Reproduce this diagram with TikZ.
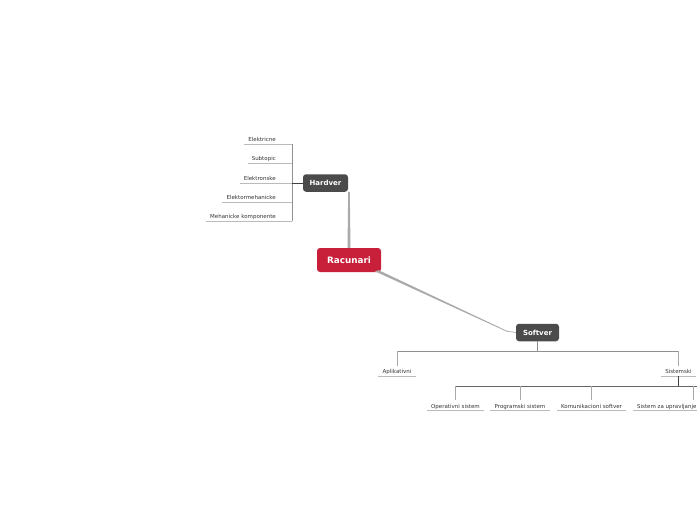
\documentclass[tikz,border=0pt]{standalone}
\usepackage{fontspec}
\setmainfont{DejaVu Sans}
\usetikzlibrary{calc}
\definecolor{redbox}{HTML}{C8203A}
\definecolor{darkbox}{HTML}{4B4B4B}
\definecolor{conn}{HTML}{AAAAAA}
\definecolor{uline}{HTML}{BBBBBB}
\definecolor{leaftext}{HTML}{333333}
\tikzset{
  mainbox/.style={fill=redbox, text=white, rounded corners=3pt, font=\fontsize{8.8}{10}\selectfont\bfseries,
    minimum width=64pt, minimum height=24pt, inner sep=0pt},
  subbox/.style={fill=darkbox, text=white, rounded corners=3pt, font=\fontsize{7}{8}\selectfont\bfseries,
    minimum height=17.5pt, inner sep=0pt},
  leaf/.style={text=leaftext, font=\fontsize{5.5}{6}\selectfont, inner xsep=4pt, inner ysep=1pt,
    text height=4pt, text depth=1pt},
  ul/.style={draw=uline, line width=0.8pt},
  brk/.style={draw=conn!85!black, line width=0.7pt},
  drop/.style={draw=conn, line width=0.7pt, shorten >=3pt},
  darkln/.style={draw=black!75, line width=0.8pt}
}
\begin{document}
\begin{tikzpicture}[x=1pt,y=-1pt]
\useasboundingbox (0,0) rectangle (697,520);
\clip (0,0) rectangle (697,520);

% main nodes
\node[mainbox] (R) at (349,260) {Racunari};
\node[subbox, minimum width=45pt] (H) at (325.5,183) {Hardver};
\node[subbox, minimum width=43pt] (S) at (537.5,332.5) {Softver};

% Racunari -> Hardver (tapered)
\coordinate (rh1) at ($(R.north)+(-1.5,0)$);
\coordinate (rh2) at ($(R.north)+(1.5,0)$);
\fill[conn] (rh1) -- (rh2) -- ($(R.north |- H.south)+(0.8,0)$) -- ($(R.north |- H.south)+(-0.8,0)$) -- cycle;

% Racunari -> Softver (tapered, then curve)
\coordinate (rs1) at ($(R.south east)+(-6.5,-1)$);
\coordinate (rs2) at ($(R.south east)+(-2.5,-2)$);
\coordinate (rsm) at (507,331.3);
\fill[conn] (rs1) -- (rs2) -- ($(rsm)+(0,-0.45)$) -- ($(rsm)+(0,0.45)$) -- cycle;
\draw[conn, line width=0.7pt] (rsm) .. controls (511,332.8) .. (S.west);

% Hardver leaves
\coordinate (hb) at (292,183);
\node[leaf, anchor=south east] (h1) at (280,144) {Elektricne};
\node[leaf, anchor=south east] (h2) at (280,163) {Subtopic};
\node[leaf, anchor=south east] (h3) at (280,183) {Elektronske};
\node[leaf, anchor=south east] (h4) at (280,202) {Elektormehanicke};
\node[leaf, anchor=south east] (h5) at (280,221) {Mehanicke komponente};
\foreach \n in {h1,h2,h3,h4,h5} {
  \draw[ul] (\n.south west) -- (\n.south -| hb);
}
\draw[brk] (h1.south -| hb) -- (h5.south -| hb);
\draw[darkln] (H.west) -- (hb);

% Softver leaves
\coordinate (sb) at (537.5,351);
\node[leaf, anchor=south] (A) at (397,376) {Aplikativni};
\node[leaf, anchor=south] (Si) at (678.5,376) {Sistemski};
\foreach \n in {A,Si} { \draw[ul] (\n.south west) -- (\n.south east); }
\draw[brk] (S.south) -- (sb);
\draw[brk] (A.north |- sb) -- (Si.north |- sb);
\draw[drop] (A.north |- sb) -- (A.north);
\draw[drop] (Si.north |- sb) -- (Si.north);

% Sistemski leaves
\coordinate (tb) at (678.5,386);
\coordinate (tbend) at (710,386);
\node[leaf, anchor=south] (o1) at (455.5,410.5) {Operativni sistem};
\node[leaf, anchor=south] (o2) at (520,410.5) {Programski sistem};
\node[leaf, anchor=south] (o3) at (591.5,410.5) {Komunikacioni softver};
\node[leaf, anchor=south west] (o4) at (633,410.5) {Sistem za upravljanje};
\coordinate (c4) at (693,386);
\foreach \n in {o1,o2,o3} { \draw[ul] (\n.south west) -- (\n.south east); }
\draw[ul] (o4.south west) -- ($(o4.south west)+(80,0)$);
\draw[darkln] (Si.south) -- (tb);
\draw[draw=black!60, line width=0.8pt] (o1.north |- tb) -- (tbend);
\foreach \n in {o1,o2,o3} { \draw[drop] (\n.north |- tb) -- (\n.north); }
\draw[drop] (c4) -- (c4 |- o4.north);
\end{tikzpicture}
\end{document}
